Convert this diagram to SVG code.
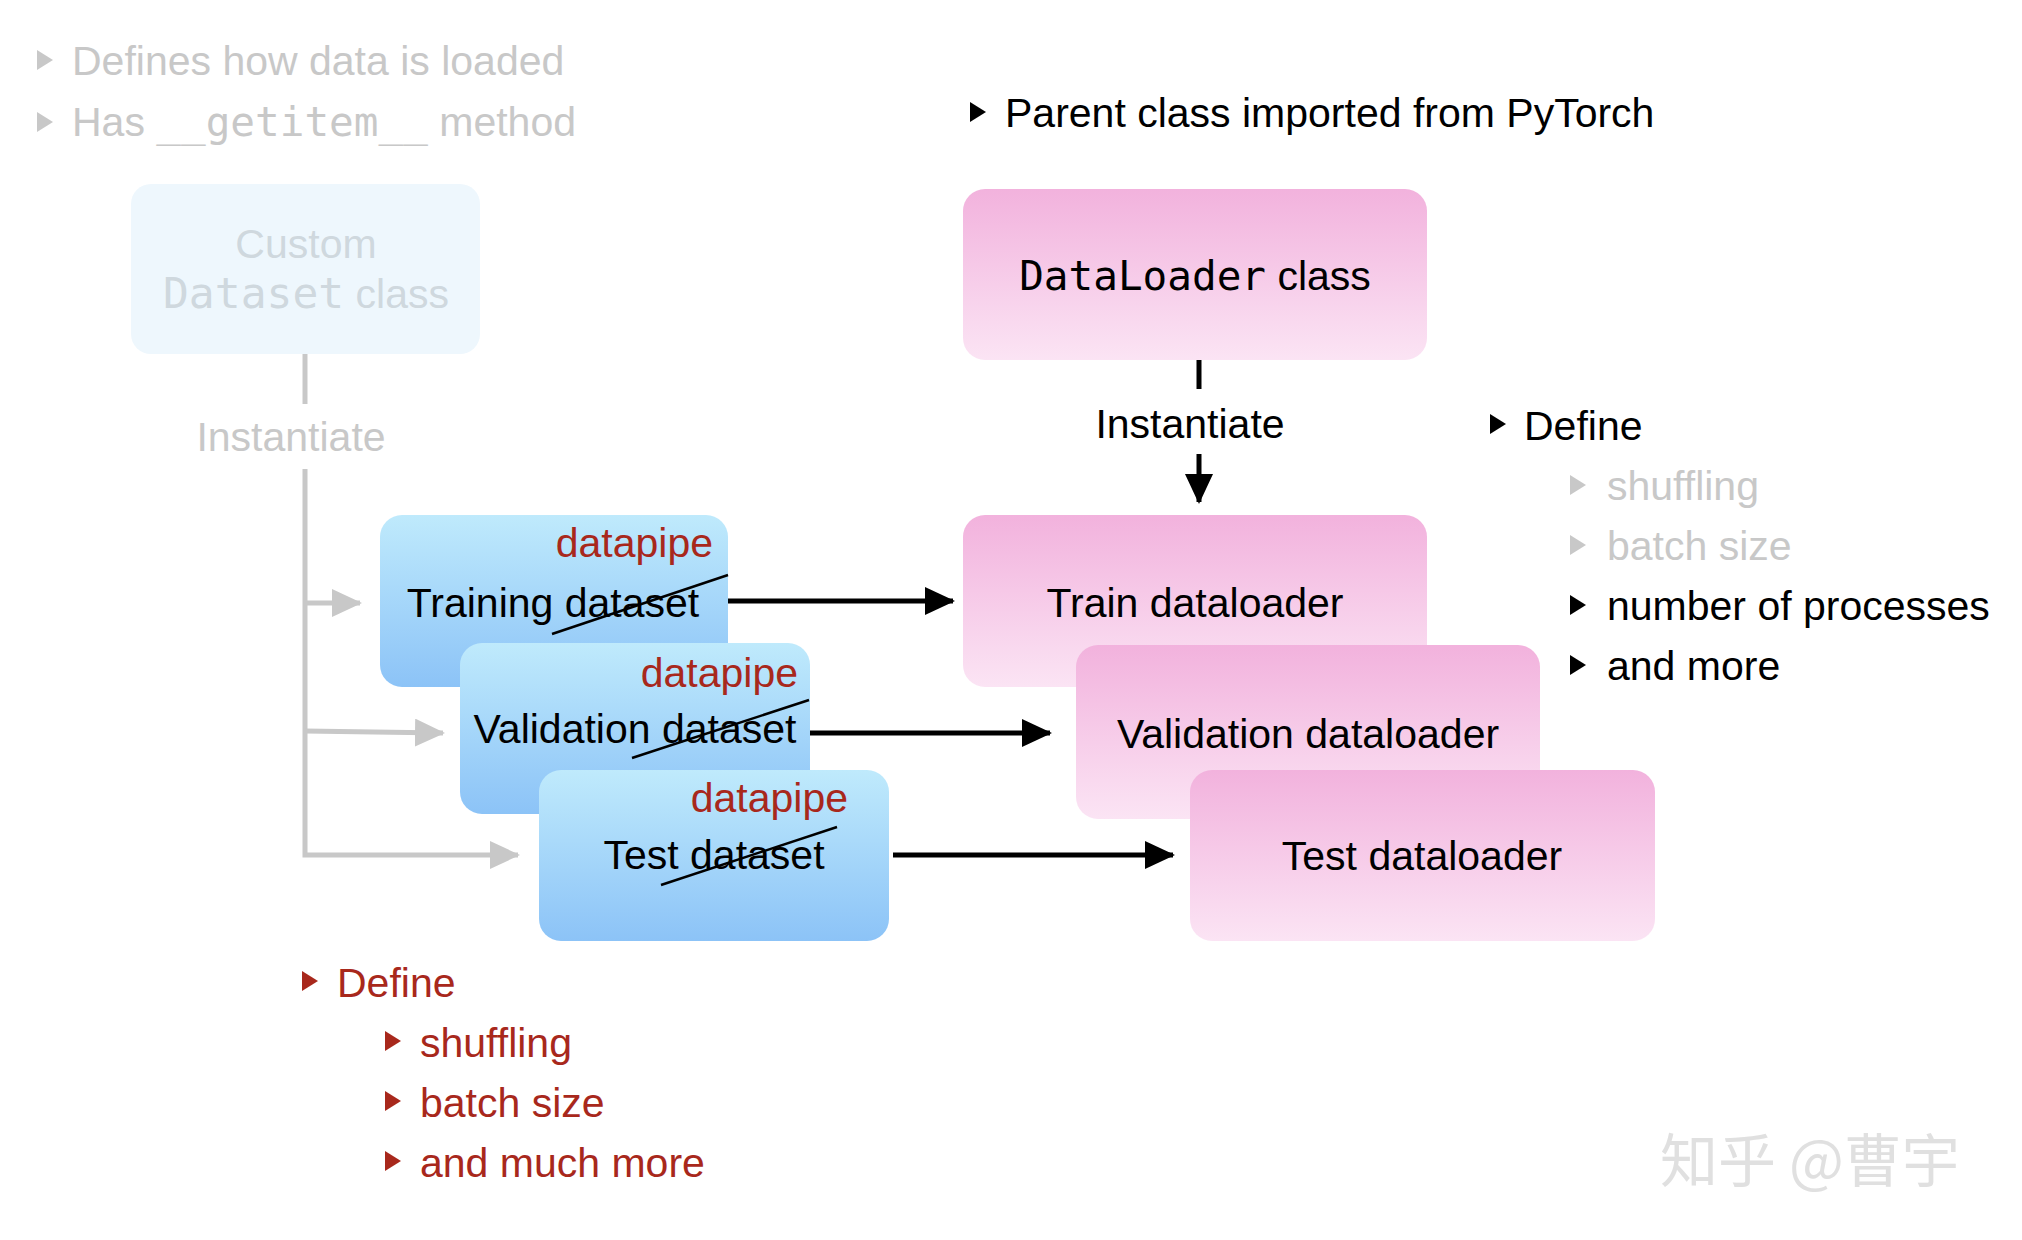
<svg xmlns="http://www.w3.org/2000/svg" width="2022" height="1240" viewBox="0 0 2022 1240">
<defs>
<linearGradient id="blue" x1="0" y1="0" x2="0" y2="1"><stop offset="0" stop-color="#bfeafc"/><stop offset="1" stop-color="#8cc3f7"/></linearGradient>
<linearGradient id="pink" x1="0" y1="0" x2="0" y2="1"><stop offset="0" stop-color="#f2b2dd"/><stop offset="1" stop-color="#fbe4f4"/></linearGradient>
<marker id="ab" markerWidth="30" markerHeight="28" refX="28" refY="14" orient="auto" markerUnits="userSpaceOnUse" viewBox="0 0 30 28"><path d="M0,0 L30,14 L0,28 z" fill="#000"/></marker>
<marker id="ag" markerWidth="30" markerHeight="28" refX="28" refY="14" orient="auto" markerUnits="userSpaceOnUse" viewBox="0 0 30 28"><path d="M0,0 L30,14 L0,28 z" fill="#c8c8c8"/></marker>
<style>
text{font-family:"Liberation Sans",Arial,sans-serif;font-size:41px}
.mono{font-family:"DejaVu Sans Mono","Liberation Mono",monospace}
.k{fill:#000}.g{fill:#c8c8c8}.r{fill:#a8281c}
.bl{stroke:#000;stroke-width:5;fill:none}
.gl{stroke:#c8c8c8;stroke-width:5;fill:none}
</style>
</defs>
<g id="notes">
<path d="M37,50 l16,10 l-16,10z" fill="#c8c8c8"/><text x="72" y="75" class="g">Defines how data is loaded</text>
<path d="M37,112 l16,10 l-16,10z" fill="#c8c8c8"/><text x="72" y="136" class="g">Has <tspan class="mono">__getitem__</tspan> method</text>
<path d="M970,102 l16,10 l-16,10z" fill="#000"/><text x="1005" y="127" class="k">Parent class imported from PyTorch</text>
<path d="M1490,414 l16,10 l-16,10z" fill="#000"/><text x="1524" y="440" class="k">Define</text>
<path d="M1570,475 l16,10 l-16,10z" fill="#c8c8c8"/><text x="1607" y="500" class="g">shuffling</text>
<path d="M1570,535 l16,10 l-16,10z" fill="#c8c8c8"/><text x="1607" y="560" class="g">batch size</text>
<path d="M1570,595 l16,10 l-16,10z" fill="#000"/><text x="1607" y="620" class="k">number of processes</text>
<path d="M1570,655 l16,10 l-16,10z" fill="#000"/><text x="1607" y="680" class="k">and more</text>
<path d="M302,971 l16,10 l-16,10z" fill="#a8281c"/><text x="337" y="997" class="r">Define</text>
<path d="M385,1031 l16,10 l-16,10z" fill="#a8281c"/><text x="420" y="1057" class="r">shuffling</text>
<path d="M385,1091 l16,10 l-16,10z" fill="#a8281c"/><text x="420" y="1117" class="r">batch size</text>
<path d="M385,1151 l16,10 l-16,10z" fill="#a8281c"/><text x="420" y="1177" class="r">and much more</text>
<text x="1660" y="1182" fill="#e0e0e0" style="font-family:'Noto Sans CJK SC',sans-serif;font-size:58px">知乎 @曹宇</text>
</g>
<g id="custom"><rect x="131" y="184" width="349" height="170" rx="20" fill="#eef7fd"/>
<text x="306" y="258" text-anchor="middle" fill="#cfd8de">Custom</text>
<text x="306" y="308" text-anchor="middle" fill="#cfd8de"><tspan class="mono" style="font-size:43px">Dataset</tspan> class</text></g>
<g id="connectors">
<path class="gl" d="M305,354 V404"/>
<text x="291" y="451" text-anchor="middle" class="g">Instantiate</text>
<path class="gl" d="M305,469 V855 H518" marker-end="url(#ag)"/>
<path class="gl" d="M305,603 H360" marker-end="url(#ag)"/>
<path class="gl" d="M305,731 L443,733" marker-end="url(#ag)"/>
<path class="bl" d="M1199,360 V389"/>
<text x="1190" y="438" text-anchor="middle" class="k">Instantiate</text>
<path class="bl" d="M1199,454 V502" marker-end="url(#ab)"/>
<path class="bl" d="M728,601 H953" marker-end="url(#ab)"/>
<path class="bl" d="M810,733 H1050" marker-end="url(#ab)"/>
<path class="bl" d="M893,855 H1173" marker-end="url(#ab)"/>
</g>
<g id="dataloader"><rect x="963" y="189" width="464" height="171" rx="22" fill="url(#pink)"/>
<text x="1195" y="290" text-anchor="middle" class="k"><tspan class="mono">DataLoader</tspan> class</text></g>
<g id="train_dl"><rect x="963" y="515" width="464" height="172" rx="22" fill="url(#pink)"/>
<text x="1195" y="617" text-anchor="middle" class="k">Train dataloader</text></g>
<g id="val_dl"><rect x="1076" y="645" width="464" height="174" rx="22" fill="url(#pink)"/>
<text x="1308" y="748" text-anchor="middle" class="k">Validation dataloader</text></g>
<g id="test_dl"><rect x="1190" y="770" width="465" height="171" rx="22" fill="url(#pink)"/>
<text x="1422" y="870" text-anchor="middle" class="k">Test dataloader</text></g>
<g id="train_ds"><rect x="380" y="515" width="348" height="172" rx="22" fill="url(#blue)"/>
<text x="713" y="557" text-anchor="end" class="r">datapipe</text>
<text x="553" y="617" text-anchor="middle" class="k">Training dataset</text>
<path d="M552,634 L728,575" stroke="#000" stroke-width="2.5"/></g>
<g id="val_ds"><rect x="460" y="643" width="350" height="171" rx="22" fill="url(#blue)"/>
<text x="798" y="687" text-anchor="end" class="r">datapipe</text>
<text x="635" y="743" text-anchor="middle" class="k">Validation dataset</text>
<path d="M632,758 L809,700" stroke="#000" stroke-width="2.5"/></g>
<g id="test_ds"><rect x="539" y="770" width="350" height="171" rx="22" fill="url(#blue)"/>
<text x="848" y="812" text-anchor="end" class="r">datapipe</text>
<text x="714" y="869" text-anchor="middle" class="k">Test dataset</text>
<path d="M661,885 L837,827" stroke="#000" stroke-width="2.5"/></g>
</svg>
